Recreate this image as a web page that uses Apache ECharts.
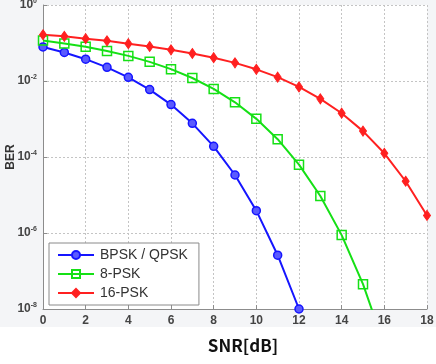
<!DOCTYPE html>
<html>
<head>
<meta charset="utf-8">
<script src="https://cdn.jsdelivr.net/npm/echarts@6/dist/echarts.min.js"></script>
<style>
html,body{margin:0;padding:0;background:#fff;}
#c{width:436px;height:364px;background:linear-gradient(to bottom,#f4f5f7 0px,#f4f5f7 327px,#ffffff 327px);}
</style>
</head>
<body>
<div id="c"></div>
<script>
const snr = [0,1,2,3,4,5,6,7,8,9,10,11,12,13,14,15,16,17,18];
const seriesNames = ['BPSK / QPSK','8-PSK','16-PSK'];
const berBpsk = [0.0786,0.0563,0.0375,0.0229,0.0125,0.00595,0.00239,7.7e-4,1.91e-4,3.36e-5,3.87e-6,2.6e-7,1.0e-8];
const ber8psk = [0.116,0.0976,0.0793,0.0618,0.0458,0.0319,0.0205,0.0120,0.00618,0.00275,0.00101,2.94e-4,6.3e-5,9.4e-6,8.8e-7,4.5e-8,1.1e-9];
const ber16psk = [0.165,0.150,0.130,0.114,0.096,0.081,0.066,0.053,0.041,0.030,0.0203,0.0126,0.0070,0.0034,0.00142,4.8e-4,1.25e-4,2.3e-5,2.9e-6];
const xTicks = [0,2,4,6,8,10,12,14,16,18];
const yExponents = [0,-2,-4,-6,-8];

function pairs(vals){ return vals.map((v,i)=>[snr[i], v]); }

const chart = echarts.init(document.getElementById('c'), null, {renderer:'canvas'});
const tickFont = {fontFamily:'Liberation Sans, Arial, sans-serif', fontSize:12, fontWeight:'bold', color:'#444'};

chart.setOption({
  backgroundColor:'transparent',
  animation:false,
  grid:{left:43,right:9,top:5,bottom:55,show:true,backgroundColor:'#ffffff',borderWidth:0,containLabel:false,outerBoundsMode:'none'},
  legend:{
    orient:'vertical', left:49, top:243,
    padding:[5,11,5,8], itemGap:5, itemWidth:36, itemHeight:10,
    backgroundColor:'#ffffff', borderColor:'#8a8a8a', borderWidth:1,
    textStyle:{fontFamily:'Liberation Sans, Arial, sans-serif', fontSize:14, color:'#333', padding:[0,0,0,1]},
    data:seriesNames
  },
  xAxis:{
    type:'value', min:xTicks[0], max:xTicks[xTicks.length-1], interval:2,
    name:'SNR[dB]', nameLocation:'middle', nameGap:28, nameMoveOverlap:false,
    nameTextStyle:{fontFamily:'Noto Sans CJK KR', fontWeight:'bold', fontSize:17, color:'#111', padding:[0,0,0,16]},
    axisLine:{show:true,lineStyle:{color:'#8c8c8c',width:1}},
    axisTick:{show:true,inside:true,length:4,lineStyle:{color:'#8c8c8c'}},
    axisLabel:Object.assign({margin:6}, tickFont),
    splitLine:{show:true,lineStyle:{color:'#c4c4c4',type:[2,2],width:1}}
  },
  yAxis:{
    type:'log', logBase:100, min:Math.pow(10,yExponents[yExponents.length-1]), max:Math.pow(10,yExponents[0]),
    name:'BER', nameLocation:'middle', nameGap:26, nameMoveOverlap:false,
    nameTextStyle:{fontFamily:'Liberation Sans, Arial, sans-serif', fontSize:12, fontWeight:'bold', color:'#333', padding:[0,0,0,0]},
    axisLine:{show:true,lineStyle:{color:'#8c8c8c',width:1}},
    axisTick:{show:true,inside:true,length:4,lineStyle:{color:'#8c8c8c'}},
    axisLabel:{
      margin:6,
      formatter:function(v){ const e=Math.round(Math.log10(v)); return '{b|10}{s|'+e+'}'; },
      rich:{
        b:{fontFamily:'Liberation Sans, Arial, sans-serif', fontSize:12, fontWeight:'bold', color:'#444', lineHeight:14},
        s:{fontFamily:'Liberation Sans, Arial, sans-serif', fontSize:7, fontWeight:'bold', color:'#444', padding:[0,0,8,0], lineHeight:14}
      }
    },
    splitLine:{show:true,lineStyle:{color:'#c4c4c4',type:[2,2],width:1}}
  },
  series:[
    {name:seriesNames[0], type:'line', data:pairs(berBpsk), clip:true,
     symbol:'circle', symbolSize:8,
     lineStyle:{color:'#1515ff',width:2},
     itemStyle:{color:'#5a5aff',borderColor:'#1515ff',borderWidth:1.5}},
    {name:seriesNames[1], type:'line', data:pairs(ber8psk), clip:true,
     symbol:'rect', symbolSize:9,
     lineStyle:{color:'#15e015',width:2},
     itemStyle:{color:'rgba(255,255,255,0)',borderColor:'#15e015',borderWidth:1.5}},
    {name:seriesNames[2], type:'line', data:pairs(ber16psk), clip:true,
     symbol:'diamond', symbolSize:[7,10],
     lineStyle:{color:'#ff2020',width:2},
     itemStyle:{color:'#ff2020',borderColor:'#ff2020',borderWidth:1}}
  ]
});
</script>
</body>
</html>
